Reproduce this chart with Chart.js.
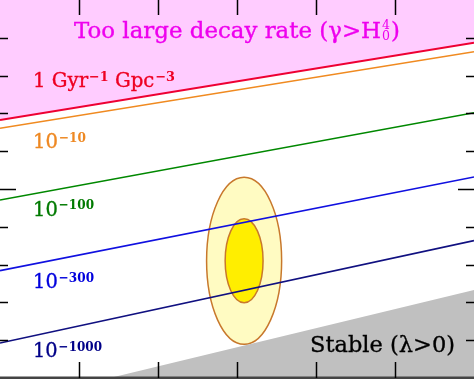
<!DOCTYPE html>
<html><head><meta charset="utf-8">
<script src="https://cdn.jsdelivr.net/npm/chart.js@4/dist/chart.umd.min.js"></script>
<style>html,body{margin:0;padding:0;background:#fff;overflow:hidden}canvas{display:block}</style>
</head><body>
<canvas id="c" width="474" height="379"></canvas>
<script>
// ---- data ----
const lineX = [0, 6];
const rate1Gyr = [6.825, 8.870];
const rate1e10 = [6.606, 8.632];
const rate1e100 = [4.709, 7.019];
const rate1e300 = [2.839, 5.317];
const rate1e1000 = [0.926, 3.635];
const stableX = [1.39, 6];
const stableY = [0, 2.33];
const xTicks = [1, 2, 3, 4, 5];
const yTicks = [1, 2, 3, 4, 5, 6, 7, 8, 9];
const yMajorTicks = [5];
// confidence contours: centre x, centre y, half-width x, half-height y
const contourOuter = [3.09, 3.10, 0.475, 2.21];
const contourInner = [3.09, 3.10, 0.24, 1.11];

// text annotations (position in data units, style separate)
const labels = [
  {x:0.937, y:8.995, color:'#ee00ee', size:22, w:326, segs:[['Too large decay rate (γ>H','n'],['4|0','sb'],[')','n']]},
  {x:0.418, y:7.706, color:'#ee0022', size:20, w:142, segs:[['1 Gyr','n'],['−1','s'],[' Gpc','n'],['−3','s']]},
  {x:0.418, y:6.077, color:'#ee8822', size:21, w:53, segs:[['10','n'],['−10','s']]},
  {x:0.418, y:4.294, color:'#007a00', size:21, w:61, segs:[['10','n'],['−100','s']]},
  {x:0.418, y:2.381, color:'#0000dd', size:21, w:61, segs:[['10','n'],['−300','s']]},
  {x:0.418, y:0.556, color:'#000088', size:21, w:69, segs:[['10','n'],['−1000','s']]},
  {x:3.924, y:0.696, color:'#000000', size:23, w:145, segs:[['Stable (λ>0)','n']]}
];

const pts = (xs, ys) => xs.map((x, i) => ({x, y: ys[i]}));
const FONT = '"DejaVu Serif", serif';

function drawSegs(ctx, l, draw) {
  let px = 0;
  l.segs.forEach(([t, k]) => {
    if (k === 'n') {
      ctx.font = l.size + 'px ' + FONT;
      if (draw) { ctx.fillText(t, px, 0); ctx.strokeText(t, px, 0); }
      px += ctx.measureText(t).width;
    } else if (k === 's') {
      ctx.font = 'bold ' + Math.round(l.size * 0.64) + 'px ' + FONT;
      px += 1;
      if (draw) ctx.fillText(t, px, -l.size * 0.3);
      px += ctx.measureText(t).width;
    } else {
      const [sp, sb] = t.split('|');
      ctx.font = Math.round(l.size * 0.55) + 'px ' + FONT;
      if (draw) { ctx.fillText(sp, px + 1, -l.size * 0.42); ctx.fillText(sb, px + 1, 2); }
      px += Math.max(ctx.measureText(sp).width, ctx.measureText(sb).width) + 2;
    }
  });
  return px;
}

const decor = {
  id: 'decor',
  beforeDatasetsDraw(chart) {
    const {ctx, scales:{x, y}} = chart;
    [[contourOuter, '#fffbc2'], [contourInner, '#ffee00']].forEach(([c, fillC]) => {
      const cx = x.getPixelForValue(c[0]), cy = y.getPixelForValue(c[1]);
      const rx = Math.abs(x.getPixelForValue(c[0] + c[2]) - cx);
      const ry = Math.abs(y.getPixelForValue(c[1] + c[3]) - cy);
      ctx.save();
      ctx.beginPath();
      ctx.ellipse(cx, cy, rx, ry, 0, 0, Math.PI * 2);
      ctx.fillStyle = fillC; ctx.fill();
      ctx.strokeStyle = '#c8782c'; ctx.lineWidth = 1.5; ctx.stroke();
      ctx.restore();
    });
  },
  afterDatasetsDraw(chart) {
    const {ctx, chartArea:a, scales:{x, y}} = chart;
    ctx.save();
    ctx.strokeStyle = '#444'; ctx.lineWidth = 3;
    ctx.beginPath(); ctx.moveTo(a.left, y.getPixelForValue(0)); ctx.lineTo(a.right, y.getPixelForValue(0)); ctx.stroke();
    ctx.strokeStyle = '#000'; ctx.lineWidth = 1.5;
    xTicks.forEach(v => {
      const px = Math.round(x.getPixelForValue(v)) + 0.5;
      ctx.beginPath(); ctx.moveTo(px, a.top); ctx.lineTo(px, a.top + 15); ctx.stroke();
      ctx.beginPath(); ctx.moveTo(px, a.bottom); ctx.lineTo(px, a.bottom - 16); ctx.stroke();
    });
    yTicks.forEach(v => {
      const py = Math.round(y.getPixelForValue(v)) + 0.5;
      const L = yMajorTicks.includes(v) ? 16 : 8;
      ctx.beginPath(); ctx.moveTo(a.left, py); ctx.lineTo(a.left + L, py); ctx.stroke();
      ctx.beginPath(); ctx.moveTo(a.right, py); ctx.lineTo(a.right - L, py); ctx.stroke();
    });
    labels.forEach(l => {
      const px = x.getPixelForValue(l.x), py = y.getPixelForValue(l.y);
      ctx.fillStyle = l.color; ctx.strokeStyle = l.color; ctx.lineWidth = 0.35;
      ctx.textBaseline = 'alphabetic'; ctx.textAlign = 'left';
      const nat = drawSegs(ctx, l, false);
      ctx.save();
      ctx.translate(px, py);
      ctx.scale(l.w / nat, 1);
      drawSegs(ctx, l, true);
      ctx.restore();
    });
    ctx.restore();
  }
};

const mk = (data, color, w, extra) => Object.assign({data, borderColor: color, borderWidth: w, pointRadius: 0, fill: false, tension: 0}, extra || {});

new Chart(document.getElementById('c'), {
  type: 'line',
  data: {
    datasets: [
      mk(pts(stableX, stableY), 'rgba(0,0,0,0)', 0, {fill: 'start', backgroundColor: '#c0c0c0'}),
      mk(pts(lineX, rate1Gyr), '#ee0033', 2, {fill: 'end', backgroundColor: '#ffccff'}),
      mk(pts(lineX, rate1e10), '#f08a20', 1.5),
      mk(pts(lineX, rate1e100), '#008800', 1.6),
      mk(pts(lineX, rate1e300), '#1010e0', 1.6),
      mk(pts(lineX, rate1e1000), '#101080', 1.6)
    ]
  },
  options: {
    responsive: false, animation: false, devicePixelRatio: 1,
    layout: {padding: {left: 0, right: 0, top: 0, bottom: 1}},
    plugins: {legend: {display: false}, tooltip: {enabled: false}},
    scales: {
      x: {type: 'linear', min: 0, max: 6, display: false},
      y: {type: 'linear', min: 0, max: 10, display: false}
    }
  },
  plugins: [decor]
});
</script>
</body></html>
